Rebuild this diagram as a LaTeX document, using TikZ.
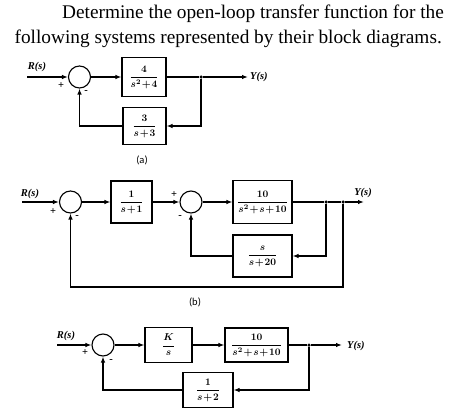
\documentclass[tikz,border=0pt]{standalone}
\usepackage{amsmath}
\usepackage{fontspec}
\setmainfont{Liberation Serif}
\newfontfamily\labfont{Carlito}
\usetikzlibrary{arrows.meta,calc}
\newcommand{\tightmath}{\medmuskip=1.2mu\thinmuskip=1mu}
\begin{document}
\begin{tikzpicture}[x=1pt,y=-1pt,
 sig/.style={line width=1.3pt,-{Latex[length=6pt,width=4.5pt]}},
 wire/.style={line width=1.3pt},
 blk/.style={draw,line width=1.1pt,inner sep=0pt,font=\fontsize{10.2}{11}\selectfont\boldmath\tightmath},
 sumj/.style={circle,draw,line width=1.1pt,minimum size=22pt,inner sep=0pt},
 dotj/.style={circle,fill,inner sep=0pt,minimum size=3.5pt},
 sgn/.style={font=\fontsize{10.5}{11}\selectfont\bfseries,inner sep=0pt},
 io/.style={font=\fontsize{10.5}{11}\selectfont\bfseries\itshape,inner sep=1pt},
 caplbl/.style={font=\fontsize{10.5}{11}\selectfont\labfont,inner sep=0pt},
 ttl/.style={font=\fontsize{19.3}{22}\selectfont,inner sep=0pt,anchor=base east},
 ]
\useasboundingbox (0,0) rectangle (474,415);
% title
\node[ttl] (t1) at (444,19) {Determine the open-loop transfer function for the};
\node[ttl] (t2) at (442,43) {following systems represented by their block diagrams.};

% ---------- (a)
\coordinate (inA) at (27,77);
\node[sumj] (sA) at (79.5,77) {};
\node[blk,minimum width=44pt,minimum height=39pt] (gA) at (144,77) {$\dfrac{4}{s^2+4}$};
\node[blk,minimum width=43pt,minimum height=37pt] (hA) at (144.5,126) {$\dfrac{3}{s+3}$};
\node[dotj] (jA) at (201,77) {};
\coordinate (outA) at (248,77);
\draw[sig] (inA) -- (sA);
\draw[sig] (sA) -- (gA);
\draw[wire] (gA) -- (jA);
\draw[sig] (jA) -- (outA);
\draw[sig] (jA) |- (hA);
\draw[sig] (hA) -| (sA);
\node[io] (rA) at (37,67) {R(s)};
\node[io,anchor=west] (yA) at (249,77) {Y(s)};
\node[sgn] (pA) at (61,86) {+};
\node[sgn] (mA) at (86,92) {-};
\node[caplbl] (cA) at (142,160) {(a)};

% ---------- (b)
\coordinate (inB) at (22,202);
\node[sumj] (sB1) at (70.5,202) {};
\node[blk,minimum width=41pt,minimum height=42pt] (gB1) at (131.5,202) {$\dfrac{1}{s+1}$};
\node[sumj] (sB2) at (191,202) {};
\node[blk,minimum width=59pt,minimum height=43pt] (gB2) at (262.5,202) {$\dfrac{10}{s^2+s+10}$};
\node[blk,minimum width=59pt,minimum height=42pt] (hB) at (262.5,256) {$\dfrac{s}{s+20}$};
\node[dotj] (jB1) at (326,202) {};
\node[dotj] (jB2) at (343,202) {};
\coordinate (outB) at (364,202);
\coordinate (cB) at (343,287);
\draw[sig] (inB) -- (sB1);
\draw[sig] (sB1) -- (gB1);
\draw[sig] (gB1) -- (sB2);
\draw[sig] (sB2) -- (gB2);
\draw[wire] (gB2) -- (jB1);
\draw[wire] (jB1) -- (jB2);
\draw[sig] (jB2) -- (outB);
\draw[sig] (jB1) |- (hB);
\draw[sig] (hB) -| (sB2);
\draw[sig] (jB2) -- (cB) -| (sB1);
\node[io] (rB) at (30,194) {R(s)};
\node[io] (yB) at (363,193) {Y(s)};
\node[sgn] (pB1) at (53,212) {+};
\node[sgn] (mB1) at (77,217) {-};
\node[sgn] (pB2) at (174,195) {+};
\node[sgn] (mB2) at (180,217) {-};
\node[caplbl] (cB2) at (195,302) {(b)};

% ---------- (c)
\coordinate (inC) at (57,345);
\node[sumj] (sC) at (103,345) {};
\node[blk,minimum width=47pt,minimum height=35pt] (gC1) at (168.5,345) {$\dfrac{K}{s}$};
\node[blk,minimum width=63pt,minimum height=34pt] (gC2) at (256.5,345) {$\dfrac{10}{s^2+s+10}$};
\node[blk,minimum width=50pt,minimum height=35pt] (hC) at (208,390) {$\dfrac{1}{s+2}$};
\node[dotj] (jC) at (309,345) {};
\coordinate (outC) at (342,345);
\draw[sig] (inC) -- (sC);
\draw[sig] (sC) -- (gC1);
\draw[sig] (gC1) -- (gC2);
\draw[wire] (gC2) -- (jC);
\draw[sig] (jC) -- (outC);
\draw[sig] (jC) |- (hC);
\draw[sig] (hC) -| (sC);
\node[io] (rC) at (66,336) {R(s)};
\node[io,anchor=west] (yC) at (346,346) {Y(s)};
\node[sgn] (pC) at (85,353) {+};
\node[sgn] (mC) at (111,361) {-};
\end{tikzpicture}
\end{document}
